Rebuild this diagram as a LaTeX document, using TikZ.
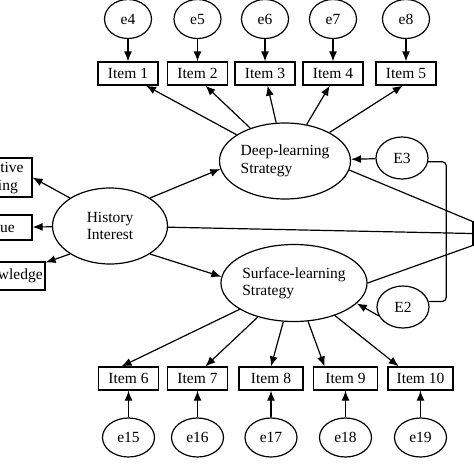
\documentclass[tikz,border=0pt]{standalone}
\usepackage{fontspec}
\setmainfont{Liberation Serif}
\usetikzlibrary{arrows.meta,shapes.geometric}
\begin{document}
\begin{tikzpicture}[x=1pt,y=-1pt,line width=1.2pt,font=\fontsize{15.5}{17.5}\selectfont]
    \tikzstyle{ob}=[draw,minimum width=60pt,minimum height=23pt,inner sep=0pt]
    \tikzstyle{er}=[draw,ellipse,minimum width=47pt,minimum height=39pt,inner sep=0pt]
    \tikzstyle{lv}=[draw,ellipse,align=left,inner sep=0pt]
    \tikzstyle{ib}=[draw,align=center,inner sep=0pt]
    \tikzstyle{ar}=[-{Latex[length=10pt,width=8pt]}]
    \useasboundingbox (0,0) rectangle (474,474);
    \clip (0,0) rectangle (474,474);
    \node[ob] (i1) at (128,73.5) {Item 1};
    \node[ob] (i2) at (197.5,73.5) {Item 2};
    \node[ob] (i3) at (265,73.5) {Item 3};
    \node[ob] (i4) at (333,73.5) {Item 4};
    \node[ob] (i5) at (406,73.5) {Item 5};
    \node[ob] (i6) at (128.5,378.5) {Item 6};
    \node[ob] (i7) at (197.5,378.5) {Item 7};
    \node[ob,minimum width=64pt] (i8) at (271,378.5) {Item 8};
    \node[ob,minimum width=64pt] (i9) at (345.5,378.5) {Item 9};
    \node[ob,minimum width=65pt] (i10) at (420.5,378.5) {Item 10};
    \node[er] (e4) at (128,19) {e4};
    \node[er] (e5) at (197.5,19) {e5};
    \node[er] (e6) at (265,19) {e6};
    \node[er] (e7) at (333,19) {e7};
    \node[er] (e8) at (406,19) {e8};
    \node[er,minimum width=52pt] (e15) at (128.5,437.5) {e15};
    \node[er,minimum width=52pt] (e16) at (197.5,437.5) {e16};
    \node[er,minimum width=52pt] (e17) at (271,437.5) {e17};
    \node[er,minimum width=52pt] (e18) at (345.5,437.5) {e18};
    \node[er,minimum width=52pt] (e19) at (420.5,437.5) {e19};
    \node[lv,minimum width=131pt,minimum height=76pt] (deep) at (285,161) {Deep-learning\\Strategy};
    \node[lv,minimum width=132pt,minimum height=77pt] (surf) at (294,283) {Surface-learning\\Strategy};
    \node[lv,minimum width=115pt,minimum height=76pt] (hist) at (110,226) {History\\Interest};
    \node[er,minimum width=52pt,minimum height=42pt] (E3) at (402,158) {E3};
    \node[er,minimum width=52pt,minimum height=42pt] (E2) at (403,307) {E2};
    \node[ib,minimum width=75pt,minimum height=39pt] (aff) at (-5.5,177.5) {Affective\\Feeling};
    \node[ib,minimum width=70pt,minimum height=25pt] (val) at (-3,227.5) {Value};
    \node[ib,minimum width=76pt,minimum height=28pt] (know) at (7,276) {Knowledge};
    \node[draw,minimum width=94pt,minimum height=23pt] (ach) at (520,233.5) {};
    \foreach \e/\i in {e4/i1,e5/i2,e6/i3,e7/i4,e8/i5,e15/i6,e16/i7,e17/i8,e18/i9,e19/i10}
        \draw[ar] (\e) -- (\i);
    \foreach \i/\a in {i1/-34,i2/-57,i3/-78,i4/-105,i5/-105}
        \draw[ar] (deep) -- (\i.\a);
    \foreach \i/\a in {i6/120,i7/57,i8/90,i9/150,i10/151}
        \draw[ar] (surf) -- (\i.\a);
    \draw[ar] (hist.35) -- (deep.187);
    \draw[ar] (hist.-35) -- (surf.175);
    \draw[ar] (hist.145) -- (aff.east);
    \draw[ar] (hist) -- (val);
    \draw[ar] (hist.-145) -- (know);
    \draw[ar] (E3) -- (deep);
    \draw[ar] (E2.200) -- (surf.-18);
    \draw[rounded corners=4pt] (E3.-8) -- ++(18,0) |- (E2.12);
    \draw (deep.-8) -- (ach.north west);
    \draw (hist) -- (ach.west);
    \draw (surf.east) -- (ach.south west);
\end{tikzpicture}
\end{document}
